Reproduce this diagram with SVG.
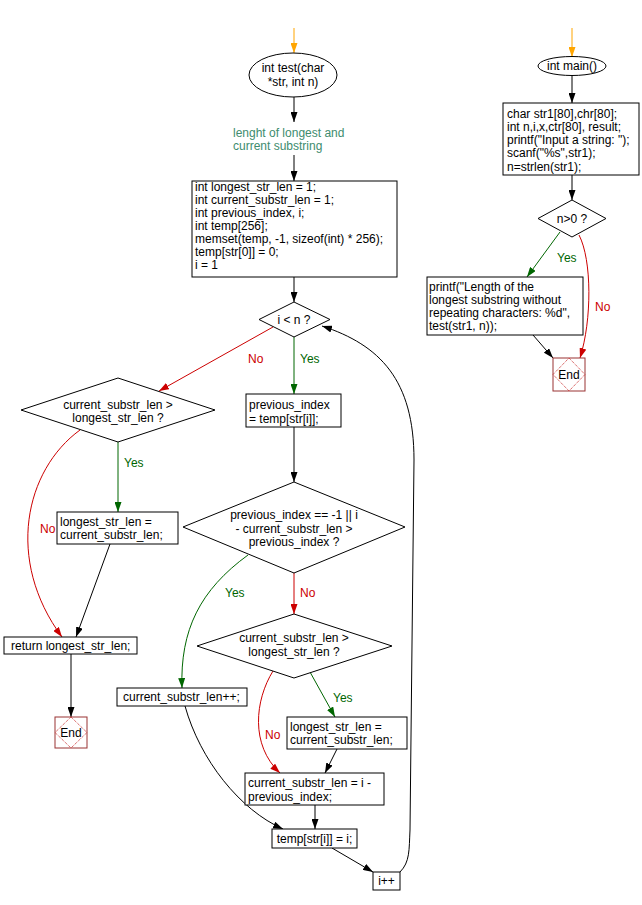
<svg xmlns="http://www.w3.org/2000/svg" width="642" height="905" viewBox="0 0 642 905">
<defs>
<style>
text{font-family:"Liberation Sans",Arial,sans-serif;font-size:12px;fill:#000}
.box{fill:#fff;stroke:#000;stroke-width:1}
.c{stroke:#000;fill:none;stroke-width:1}
.g{stroke:#006600}
.r{stroke:#cc0000}
.o{stroke:#ffa500}
.lg{fill:#006600}
.lr{fill:#cc0000}
.note{fill:#408c6e}
.endb{fill:#fff;stroke:#993333;stroke-width:1}
.endd{fill:none;stroke:#cc3333;stroke-width:1;stroke-dasharray:1 1}
</style>
<marker id="ab" markerUnits="userSpaceOnUse" markerWidth="10" markerHeight="7" refX="10" refY="3.5" orient="auto"><path d="M0,0 L10,3.5 L0,7 z" fill="#000"/></marker>
<marker id="ag" markerUnits="userSpaceOnUse" markerWidth="10" markerHeight="7" refX="10" refY="3.5" orient="auto"><path d="M0,0 L10,3.5 L0,7 z" fill="#006600"/></marker>
<marker id="ar" markerUnits="userSpaceOnUse" markerWidth="10" markerHeight="7" refX="10" refY="3.5" orient="auto"><path d="M0,0 L10,3.5 L0,7 z" fill="#cc0000"/></marker>
<marker id="ao" markerUnits="userSpaceOnUse" markerWidth="10" markerHeight="7" refX="10" refY="3.5" orient="auto"><path d="M0,0 L10,3.5 L0,7 z" fill="#ffa500"/></marker>
</defs>
<rect width="642" height="905" fill="#fff"/>

<g id="connectors">
<path class="c o" d="M294 28 L294 53" marker-end="url(#ao)"/>
<path class="c" d="M294 97 L294 122" marker-end="url(#ab)"/>
<path class="c" d="M294 155 L294 181" marker-end="url(#ab)"/>
<path class="c" d="M294 277 L294 302" marker-end="url(#ab)"/>
<path class="c r" d="M273 327 L159 391" marker-end="url(#ar)"/>
<path class="c g" d="M294 337 L294 394" marker-end="url(#ag)"/>
<path class="c" d="M294 427 L294 482" marker-end="url(#ab)"/>
<path class="c g" d="M118 442 L118 512" marker-end="url(#ag)"/>
<path class="c r" d="M80 430 C25 470, 5 560, 62 637" marker-end="url(#ar)"/>
<path class="c" d="M110 544 L76 637" marker-end="url(#ab)"/>
<path class="c" d="M71 654 L71 717" marker-end="url(#ab)"/>
<path class="c g" d="M248 555 C200 590, 180 630, 182 688" marker-end="url(#ag)"/>
<path class="c r" d="M294 573 L294 614" marker-end="url(#ar)"/>
<path class="c g" d="M310 672 L335 717" marker-end="url(#ag)"/>
<path class="c r" d="M273 671 C255 700, 250 745, 280 773" marker-end="url(#ar)"/>
<path class="c" d="M337 749 L325 773" marker-end="url(#ab)"/>
<path class="c" d="M315 805 L315 829" marker-end="url(#ab)"/>
<path class="c" d="M185 706 C200 760, 240 810, 283 829" marker-end="url(#ab)"/>
<path class="c" d="M332 848 L373 872" marker-end="url(#ab)"/>
<path class="c" d="M400 872 C410 862, 409 850, 410 830 L414 460 C414 380, 380 345, 322 326" marker-end="url(#ab)"/>
<path class="c o" d="M572 28 L572 57" marker-end="url(#ao)"/>
<path class="c" d="M572 75 L572 103" marker-end="url(#ab)"/>
<path class="c" d="M572 175 L572 200" marker-end="url(#ab)"/>
<path class="c g" d="M560 232 L527 277" marker-end="url(#ag)"/>
<path class="c r" d="M579 235 C592 260, 592 320, 580 358" marker-end="url(#ar)"/>
<path class="c" d="M533 335 L553 358" marker-end="url(#ab)"/>
<text class="lr" x="248" y="363">No</text>
<text class="lg" x="300" y="363">Yes</text>
<text class="lg" x="124" y="467">Yes</text>
<text class="lr" x="40" y="533">No</text>
<text class="lg" x="225" y="597">Yes</text>
<text class="lr" x="300" y="597">No</text>
<text class="lg" x="333" y="702">Yes</text>
<text class="lr" x="265" y="739">No</text>
<text class="lg" x="557" y="262">Yes</text>
<text class="lr" x="595" y="311">No</text>
</g>

<g id="test_start">
<ellipse class="box" cx="293" cy="75" rx="44" ry="22"/>
<text x="293" y="72" text-anchor="middle">int test(char</text>
<text x="293" y="86" text-anchor="middle">*str, int n)</text>
</g>

<g id="note">
<text class="note" x="233" y="137">lenght of longest and</text>
<text class="note" x="233" y="150">current substring</text>
</g>

<g id="init">
<rect class="box" x="192" y="181" width="205" height="96"/>
<text x="195" y="191">int longest_str_len = 1;</text>
<text x="195" y="204">int current_substr_len = 1;</text>
<text x="195" y="217">int previous_index, i;</text>
<text x="195" y="230">int temp[256];</text>
<text x="195" y="243">memset(temp, -1, sizeof(int) * 256);</text>
<text x="195" y="256">temp[str[0]] = 0;</text>
<text x="195" y="269">i = 1</text>
</g>

<g id="loop_cond">
<polygon class="box" points="294,302 330,319.5 294,337 259,319.5"/>
<text x="294" y="324" text-anchor="middle">i &lt; n ?</text>
</g>

<g id="prev_index">
<rect class="box" x="246" y="394" width="95" height="33"/>
<text x="249" y="409">previous_index</text>
<text x="249" y="423">= temp[str[i]];</text>
</g>

<g id="final_cmp">
<polygon class="box" points="118,378 215,410 118,442 21,410"/>
<text x="118" y="409" text-anchor="middle">current_substr_len &gt;</text>
<text x="118" y="422" text-anchor="middle">longest_str_len ?</text>
</g>

<g id="final_assign">
<rect class="box" x="57" y="512" width="121" height="32"/>
<text x="60" y="526">longest_str_len =</text>
<text x="60" y="539">current_substr_len;</text>
</g>

<g id="return">
<rect class="box" x="4" y="637" width="133" height="17"/>
<text x="11" y="650">return longest_str_len;</text>
</g>

<g id="end_test">
<rect class="endb" x="55" y="717" width="32" height="31"/>
<polygon class="endd" points="71,717 87,732.5 71,748 55,732.5"/>
<text x="71" y="737" text-anchor="middle">End</text>
</g>

<g id="repeat_cond">
<polygon class="box" points="294,482 405,527 294,573 183,527"/>
<text x="294" y="519" text-anchor="middle">previous_index == -1 || i</text>
<text x="294" y="533" text-anchor="middle">- current_substr_len &gt;</text>
<text x="294" y="546" text-anchor="middle">previous_index ?</text>
</g>

<g id="inner_cmp">
<polygon class="box" points="294,614 392,646 294,678 197,646"/>
<text x="294" y="642" text-anchor="middle">current_substr_len &gt;</text>
<text x="294" y="656" text-anchor="middle">longest_str_len ?</text>
</g>

<g id="inc">
<rect class="box" x="117" y="688" width="130" height="18"/>
<text x="123" y="701">current_substr_len++;</text>
</g>

<g id="inner_assign">
<rect class="box" x="287" y="717" width="120" height="32"/>
<text x="290" y="731">longest_str_len =</text>
<text x="290" y="744">current_substr_len;</text>
</g>

<g id="reset">
<rect class="box" x="245" y="773" width="139" height="32"/>
<text x="248" y="787">current_substr_len = i -</text>
<text x="248" y="801">previous_index;</text>
</g>

<g id="store">
<rect class="box" x="272" y="829" width="85" height="19"/>
<text x="314.5" y="843" text-anchor="middle">temp[str[i]] = i;</text>
</g>

<g id="incr_i">
<rect class="box" x="373" y="872" width="27" height="18"/>
<text x="386.5" y="885" text-anchor="middle">i++</text>
</g>

<g id="main_start">
<ellipse class="box" cx="572" cy="66" rx="34" ry="9.5"/>
<text x="572" y="70" text-anchor="middle">int main()</text>
</g>

<g id="main_init">
<rect class="box" x="503" y="103" width="136" height="72"/>
<text x="507" y="118">char str1[80],chr[80];</text>
<text x="507" y="131">int n,i,x,ctr[80], result;</text>
<text x="507" y="144">printf("Input a string: ");</text>
<text x="507" y="157">scanf("%s",str1);</text>
<text x="507" y="171">n=strlen(str1);</text>
</g>

<g id="main_cond">
<polygon class="box" points="572,200 606,218.5 572,237 538,218.5"/>
<text x="572" y="223" text-anchor="middle">n&gt;0 ?</text>
</g>

<g id="main_print">
<rect class="box" x="427" y="277" width="156" height="58"/>
<text x="429" y="291">printf("Length of the</text>
<text x="429" y="304">longest substring without</text>
<text x="429" y="317">repeating characters: %d",</text>
<text x="429" y="330">test(str1, n));</text>
</g>

<g id="end_main">
<rect class="endb" x="553" y="358" width="32" height="33"/>
<polygon class="endd" points="569,358 585,374.5 569,391 553,374.5"/>
<text x="569" y="379" text-anchor="middle">End</text>
</g>
</svg>
